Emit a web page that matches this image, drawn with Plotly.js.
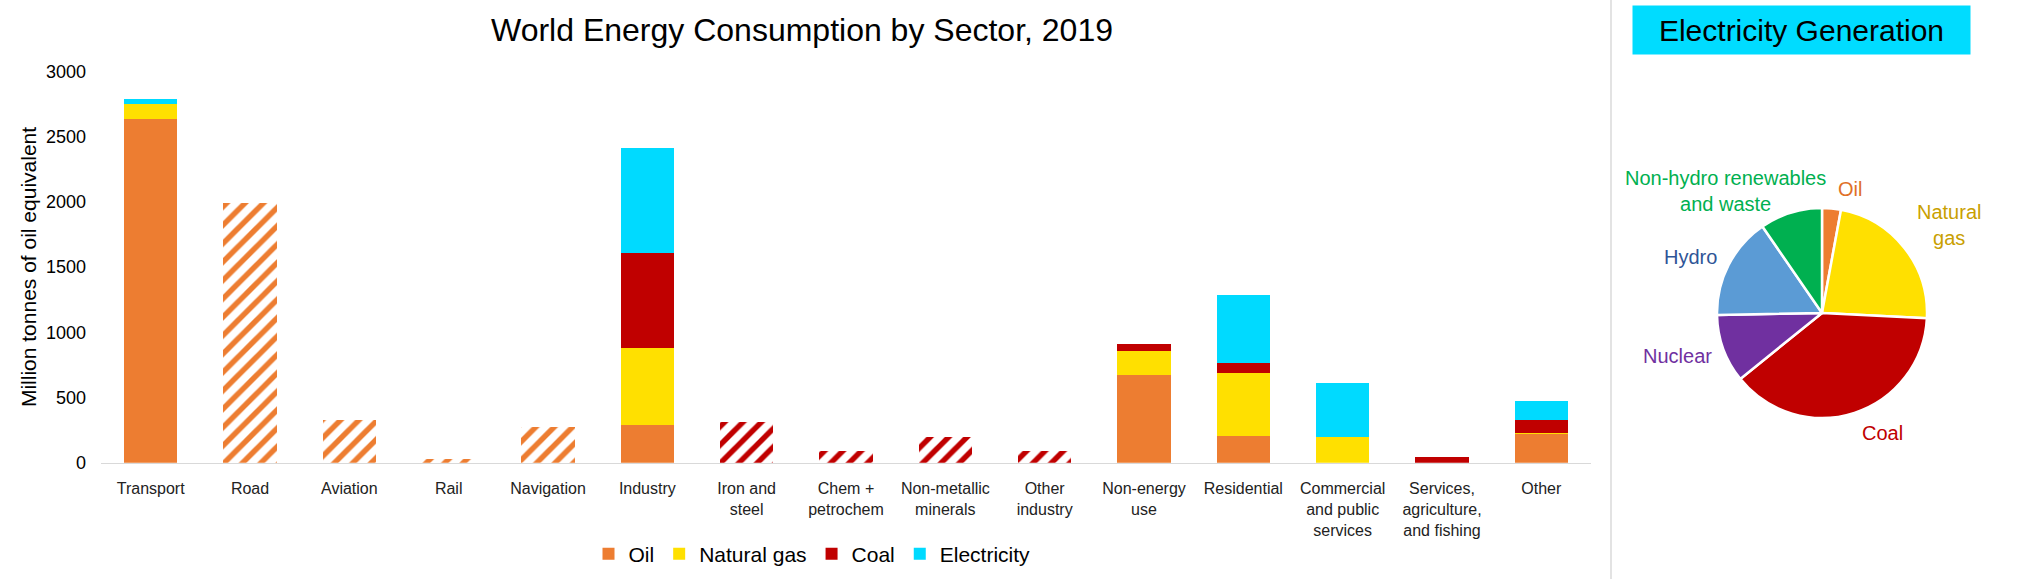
<!DOCTYPE html>
<html>
<head>
<meta charset="utf-8">
<script src="https://cdn.plot.ly/plotly-3.0.1.min.js"></script>
<style>
  html, body { margin: 0; padding: 0; background: #fff; }
  #chart { width: 2041px; height: 579px; }
</style>
</head>
<body>
<div id="chart"></div>
<script>
// sectors, in the order they sit on the x axis
const sectors = [
  "Transport", "Road", "Aviation", "Rail", "Navigation", "Industry",
  "Iron and steel", "Chem + petrochem", "Non-metallic minerals", "Other industry",
  "Non-energy use", "Residential", "Commercial and public services",
  "Services, agriculture, and fishing", "Other"
];
const sectorTicks = [
  "Transport", "Road", "Aviation", "Rail", "Navigation", "Industry",
  "Iron and<br>steel", "Chem +<br>petrochem", "Non-metallic<br>minerals", "Other<br>industry",
  "Non-energy<br>use", "Residential", "Commercial<br>and public<br>services",
  "Services,<br>agriculture,<br>and fishing", "Other"
];

// Mtoe
const oil      = [2635, null, null, null, null, 290, null, null, null, null, 670, 208, null, null, 217];
const oilSub   = [null, 1990, 330, 30, 270, null, null, null, null, null, null, null, null, null, null];
const gas      = [115, null, null, null, null, 590, null, null, null, null, 186, 482, 200, null, 12];
const coal     = [null, null, null, null, null, 725, null, null, null, null, 54, 77, null, 40, 97];
const coalSub  = [null, null, null, null, null, null, 310, 90, 200, 90, null, null, null, null, null];
const elec     = [38, null, null, null, null, 808, null, null, null, null, null, 515, 410, null, 148];

// electricity generation shares, %
const genLabels = ["Oil", "Natural gas", "Coal", "Nuclear", "Hydro", "Non-hydro renewables and waste"];
const genText   = ["Oil", "Natural<br>gas", "Coal", "Nuclear", "Hydro", "Non-hydro renewables<br>and waste"];
const genShare  = [2.9, 22.9, 38.4, 10.5, 15.7, 9.6];

const C = {
  oil: "#ED7D31", gas: "#FFE000", coal: "#C00000", elec: "#00DAFF",
  nuclear: "#7030A0", hydro: "#5B9BD5", green: "#00B050"
};
const sliceColors = [C.oil, C.gas, C.coal, C.nuclear, C.hydro, C.green];
const labelColors = ["#E07028", "#C9A000", "#C00000", "#7030A0", "#2F5597", "#00B050"];
// label centres in page pixels
const labelPos = [[1850, 189], [1949, 225], [1882, 433], [1677, 356], [1690, 257], [1725, 191]];

const W = 2041, H = 579;
const px = x => x / W;
const py = y => 1 - y / H;

function solid(name, y, color, legend) {
  return {
    type: "bar", name: name, x: sectors, y: y,
    marker: { color: color, line: { width: 0 } },
    showlegend: legend, hoverinfo: "skip"
  };
}
function hatched(name, y, color) {
  return {
    type: "bar", name: name, x: sectors, y: y,
    marker: {
      color: color, line: { width: 0 },
      pattern: { shape: "/", fgcolor: color, bgcolor: "white", size: 13, solidity: 0.42 }
    },
    showlegend: false, hoverinfo: "skip"
  };
}

const traces = [
  solid("Oil", oil, C.oil, true),
  hatched("Oil (sub-sector)", oilSub, C.oil),
  solid("Natural gas", gas, C.gas, true),
  solid("Coal", coal, C.coal, true),
  hatched("Coal (sub-sector)", coalSub, C.coal),
  solid("Electricity", elec, C.elec, true),
  {
    type: "pie", labels: genLabels, values: genShare, sort: false,
    direction: "clockwise", rotation: 0, textinfo: "none", hoverinfo: "skip",
    marker: { colors: sliceColors, line: { color: "white", width: 2.5 } },
    domain: { x: [px(1717), px(1927)], y: [py(418), py(208)] },
    showlegend: false
  }
];

const annotations = genText.map((t, i) => ({
  text: t, xref: "paper", yref: "paper",
  x: px(labelPos[i][0]), y: py(labelPos[i][1]),
  xanchor: "center", yanchor: "middle", showarrow: false,
  font: { size: 20, color: labelColors[i] }
}));
annotations.push({
  text: "Electricity Generation", xref: "paper", yref: "paper",
  x: px(1801), y: py(29.5), xanchor: "center", yanchor: "middle",
  showarrow: false, bgcolor: "#00DCFF", width: 335, height: 46,
  font: { size: 30, color: "#000" }
});

const layout = {
  width: W, height: H,
  margin: { l: 0, r: 0, t: 0, b: 0 },
  paper_bgcolor: "white", plot_bgcolor: "white",
  font: { family: "Liberation Sans, Arial, sans-serif", color: "#000" },
  title: {
    text: "World Energy Consumption by Sector, 2019",
    font: { size: 32, color: "#000" },
    x: px(802), y: py(30), xanchor: "center", yanchor: "middle",
    xref: "paper", yref: "paper"
  },
  barmode: "stack",
  bargap: 0.46,
  xaxis: {
    domain: [px(101), px(1591)],
    type: "category",
    tickvals: sectors, ticktext: sectorTicks,
    tickfont: { size: 16, color: "#222" },
    showline: true, linecolor: "#D9D9D9", linewidth: 1.5,
    ticks: "", showgrid: false, zeroline: false,
    ticklabelstandoff: 11, fixedrange: true
  },
  yaxis: {
    domain: [py(462.7), py(71.3)],
    range: [0, 3000], dtick: 500,
    tickfont: { size: 18, color: "#000" },
    showgrid: false, zeroline: false, showline: false, ticks: "",
    ticklabelstandoff: 14,
    title: { text: "Million tonnes of oil equivalent", font: { size: 21, color: "#000" }, standoff: 3 },
    fixedrange: true
  },
  legend: {
    orientation: "h", x: px(812), y: py(554),
    xanchor: "center", yanchor: "middle",
    font: { size: 21, color: "#000" }, itemwidth: 30,
    traceorder: "normal"
  },
  shapes: [{
    type: "line", xref: "paper", yref: "paper",
    x0: px(1611), x1: px(1611), y0: 0, y1: 1,
    line: { color: "#DADADA", width: 1.5 }
  }],
  annotations: annotations
};

Plotly.newPlot("chart", traces, layout, { displayModeBar: false, staticPlot: true });
</script>
</body>
</html>
